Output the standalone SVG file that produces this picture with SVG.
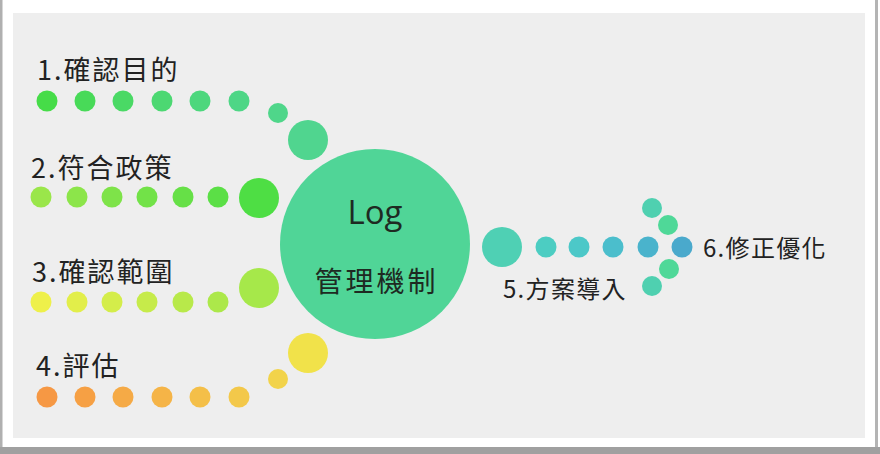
<svg xmlns="http://www.w3.org/2000/svg" width="880" height="454" viewBox="0 0 880 454">
<style>
.lbl{font-family:"Noto Sans CJK TC","Noto Sans",sans-serif;font-size:27px;letter-spacing:2px;fill:#222}
.lbl2{font-family:"Noto Sans CJK TC","Noto Sans",sans-serif;font-size:24px;letter-spacing:1.3px;fill:#222}
</style>
<rect width="880" height="454" fill="#ffffff"/>
<rect x="0" y="0" width="2.5" height="450" fill="#b0b0b0"/>
<rect x="875" y="0" width="3" height="450" fill="#b4b4b4"/>
<rect x="0" y="447" width="880" height="7" fill="#a0a0a0"/>
<rect x="13" y="13" width="852" height="425" fill="#eeeeee"/>
<g id="connectors">
  <g id="chain1">
    <circle cx="47" cy="101" r="10.5" fill="#46dc48"/>
    <circle cx="85" cy="101" r="10.5" fill="#48da58"/>
    <circle cx="123" cy="101" r="10.5" fill="#4ad965"/>
    <circle cx="162" cy="101" r="10.5" fill="#4cd872"/>
    <circle cx="200" cy="101" r="10.5" fill="#4dd77d"/>
    <circle cx="239" cy="101" r="10.5" fill="#4ed686"/>
    <circle cx="278" cy="113" r="10" fill="#4fd68a"/>
    <circle cx="308" cy="140" r="20" fill="#50d58f"/>
  </g>
  <g id="chain2">
    <circle cx="41" cy="197" r="10.5" fill="#9ae64a"/>
    <circle cx="77" cy="197" r="10.5" fill="#8ce54a"/>
    <circle cx="112" cy="197" r="10.5" fill="#7ee349"/>
    <circle cx="147" cy="197" r="10.5" fill="#72e248"/>
    <circle cx="183" cy="197" r="10.5" fill="#66e047"/>
    <circle cx="218" cy="197" r="10.5" fill="#5bdf46"/>
    <circle cx="259" cy="198" r="20" fill="#4ede44"/>
  </g>
  <g id="chain3">
    <circle cx="41" cy="302" r="10.5" fill="#eef04a"/>
    <circle cx="77" cy="302" r="10.5" fill="#e2ee4a"/>
    <circle cx="112" cy="302" r="10.5" fill="#d4ed4a"/>
    <circle cx="147" cy="302" r="10.5" fill="#c6eb4a"/>
    <circle cx="183" cy="302" r="10.5" fill="#b8e94a"/>
    <circle cx="218" cy="302" r="10.5" fill="#ace84a"/>
    <circle cx="259" cy="288" r="20" fill="#a6e84a"/>
  </g>
  <g id="chain4">
    <circle cx="47" cy="397" r="10.5" fill="#f69844"/>
    <circle cx="85" cy="397" r="10.5" fill="#f6a044"/>
    <circle cx="123" cy="397" r="10.5" fill="#f5aa46"/>
    <circle cx="162" cy="397" r="10.5" fill="#f5b447"/>
    <circle cx="200" cy="397" r="10.5" fill="#f4bf48"/>
    <circle cx="239" cy="397" r="10.5" fill="#f3c84a"/>
    <circle cx="278" cy="379" r="10" fill="#f2d34a"/>
    <circle cx="308" cy="353" r="20" fill="#f1e24a"/>
  </g>
  <g id="chain5">
    <circle cx="502" cy="247" r="20" fill="#4fd0b4"/>
    <circle cx="546" cy="247" r="10.5" fill="#4ccdc2"/>
    <circle cx="579" cy="247" r="10.5" fill="#4cc8c8"/>
    <circle cx="613" cy="247" r="10.5" fill="#4bbecc"/>
    <circle cx="648" cy="247" r="10.5" fill="#4ab3cc"/>
    <circle cx="682" cy="247" r="10.5" fill="#4aa9cc"/>
    <circle cx="652" cy="208" r="10" fill="#4fd0b0"/>
    <circle cx="668" cy="225" r="10" fill="#4fd898"/>
    <circle cx="669" cy="269" r="10" fill="#4fd898"/>
    <circle cx="652" cy="286" r="10" fill="#4fd0b0"/>
  </g>
</g>
<g id="center">
  <circle cx="375" cy="244" r="95" fill="#50d597"/>
  <text x="375" y="224" text-anchor="middle" font-family="'Open Sans','Noto Sans',sans-serif" font-size="33" fill="#1e2a22">Log</text>
  <text x="376.5" y="292" text-anchor="middle" font-family="'Noto Sans CJK TC',sans-serif" font-size="28" letter-spacing="3" fill="#1e2a22">管理機制</text>
</g>
<g id="step1"><text class="lbl" x="37" y="80">1.確認目的</text></g>
<g id="step2"><text class="lbl" x="31" y="178">2.符合政策</text></g>
<g id="step3"><text class="lbl" x="32" y="282">3.確認範圍</text></g>
<g id="step4"><text class="lbl" x="36" y="376">4.評估</text></g>
<g id="step5"><text class="lbl2" x="503" y="298">5.方案導入</text></g>
<g id="step6"><text class="lbl2" x="703" y="257">6.修正優化</text></g>
</svg>
